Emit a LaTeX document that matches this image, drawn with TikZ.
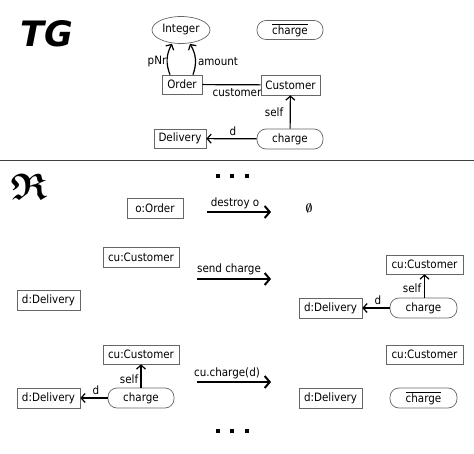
\documentclass[tikz,border=0pt]{standalone}
\usepackage{amsmath,amssymb}
\usepackage{fontspec}
\setmainfont{DejaVu Sans Condensed}
\newfontfamily\tgfont{DejaVu Sans}
\usetikzlibrary{arrows.meta,shapes.geometric}
\tikzset{
  txt/.style={font=\fontsize{11.5}{13}\selectfont, inner sep=0pt},
  obj/.style={txt, draw=black!60, line width=0.7pt, minimum height=19pt},
  act/.style={obj, rounded corners=9pt},
  ell/.style={txt, draw=black!60, line width=0.7pt, ellipse, minimum width=58pt, minimum height=27pt},
  conn/.style={line width=1.2pt},
  arr/.style={conn, -{Straight Barb[length=4pt,width=9pt,line width=1.2pt]}},
  step arrow/.style={line width=2pt, -{Straight Barb[length=5pt,width=12pt,line width=2pt]}},
  lbl/.style={txt},
  dot/.style={fill=black, minimum size=4.5pt, inner sep=0pt},
}
\newcommand{\ovl}[1]{$\overline{\mbox{#1}}$}
\begin{document}
\begin{tikzpicture}[x=1pt,y=-1pt]
\useasboundingbox (0,0) rectangle (474,454);
% ---------- TG ----------
\node[inner sep=0pt, font=\tgfont\fontsize{35}{35}\selectfont\bfseries\itshape] (tg) at (47,34) {TG};
\node[ell] (int) at (181,30) {Integer};
\node[act, minimum width=66pt] (chT) at (290,30) {\ovl{charge}};
\node[obj, minimum width=40pt] (ord) at (182,84.5) {Order};
\node[obj, minimum width=59pt, minimum height=20pt] (cus) at (290.5,85) {Customer};
\node[obj, minimum width=52pt] (del) at (180,138.5) {Delivery};
\node[act, minimum width=66pt, minimum height=20pt] (chB) at (290,139) {charge};
\draw[arr] ([xshift=-12pt]ord.north) to[bend left=25] ([xshift=-9pt]int.south);
\draw[arr] ([xshift=11pt]ord.north) to[bend right=25] ([xshift=9pt]int.south);
\node[lbl] (lpnr) at (157,62) {pNr};
\node[lbl] (lam) at (218,62) {amount};
\draw[conn] (ord) -- (cus);
\node[lbl] (lcu) at (237,93) {customer};
\draw[arr] (chB) -- (cus);
\node[lbl] (lself) at (274,112) {self};
\draw[arr] (chB) -- (del);
\node[lbl] (ld) at (233,131) {d};
% separator
\draw[line width=1.2pt, black!75] (0,160.5) -- (474,160.5);
% ---------- R ----------
\node[inner sep=0pt, scale=3.7] (R) at (29,187) {$\boldsymbol{\mathfrak{R}}$};
\node[dot] (d1) at (218,176) {};
\node[dot] (d2) at (232,176) {};
\node[dot] (d3) at (247,176) {};
% row 1
\node[obj, minimum width=56pt, minimum height=20pt] (oo) at (155,208) {o:Order};
\coordinate (a1s) at (207,212);
\coordinate (a1e) at (271,212);
\draw[step arrow] (a1s) -- (a1e);
\node[lbl] (la1) at (235,203) {destroy o};
\node[inner sep=0pt, font=\fontsize{12}{14}\selectfont] (empty) at (309,208) {$\boldsymbol{\emptyset}$};
% row 2
\node[obj, minimum width=76pt, minimum height=20pt] (cu2) at (141,257) {cu:Customer};
\node[obj, minimum width=63pt, minimum height=20pt] (de2) at (48.5,300) {d:Delivery};
\coordinate (a2s) at (197,279);
\coordinate (a2e) at (271,279);
\draw[step arrow] (a2s) -- (a2e);
\node[lbl] (la2) at (229,269) {send charge};
\node[obj, minimum width=77pt] (cu2r) at (424.5,264.5) {cu:Customer};
\node[obj, minimum width=63pt, minimum height=20pt] (de2r) at (330.5,308) {d:Delivery};
\node[act, minimum width=67pt, minimum height=20pt] (ch2r) at (423.5,308) {charge};
\draw[arr] (ch2r) -- (de2r);
\node[lbl] (ld2) at (378,300) {d};
\draw[arr] (ch2r.north -| cu2r.south) -- (cu2r.south);
\node[lbl] (ls2) at (412,288) {self};
% row 3
\node[obj, minimum width=76pt] (cu3) at (141,354.5) {cu:Customer};
\node[act, minimum width=66pt, minimum height=20pt] (ch3) at (141,398) {charge};
\node[obj, minimum width=63pt, minimum height=20pt] (de3) at (48.5,398) {d:Delivery};
\draw[arr] (ch3) -- (cu3);
\node[lbl] (ls3) at (129,379) {self};
\draw[arr] (ch3) -- (de3);
\node[lbl] (ld3) at (96,390) {d};
\coordinate (a3s) at (197,382);
\coordinate (a3e) at (271,382);
\draw[step arrow] (a3s) -- (a3e);
\node[lbl] (la3) at (227,373) {cu.charge(d)};
\node[obj, minimum width=77pt] (cu3r) at (424.5,354.5) {cu:Customer};
\node[obj, minimum width=63pt, minimum height=20pt] (de3r) at (330.5,398) {d:Delivery};
\node[act, minimum width=67pt, minimum height=20pt] (ch3r) at (423.5,398) {\ovl{charge}};
\node[dot] (e1) at (218,431) {};
\node[dot] (e2) at (232,431) {};
\node[dot] (e3) at (247,431) {};
\end{tikzpicture}
\end{document}
